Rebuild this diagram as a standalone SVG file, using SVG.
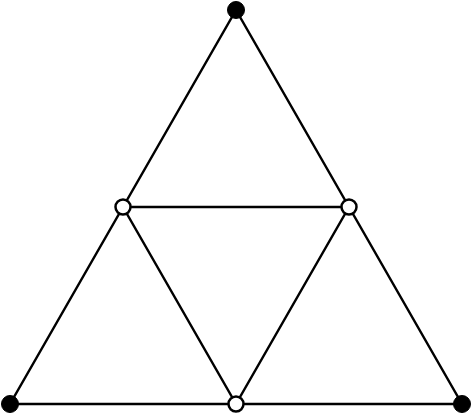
<svg xmlns="http://www.w3.org/2000/svg" width="474" height="413" viewBox="0 0 474 413">
<style>
.edge{stroke:#000;stroke-width:2.5;fill:none;stroke-linecap:round}
.solid{fill:#000;stroke:#000;stroke-width:1}
.hollow{fill:#fff;stroke:#000;stroke-width:2.5}
</style>
<rect width="474" height="413" fill="#fff"/>
<g id="connectors">
<line class="edge" x1="236" y1="10" x2="123" y2="207"/>
<line class="edge" x1="123" y1="207" x2="10" y2="404"/>
<line class="edge" x1="236" y1="10" x2="349" y2="207"/>
<line class="edge" x1="349" y1="207" x2="462" y2="404"/>
<line class="edge" x1="10" y1="404" x2="236" y2="404"/>
<line class="edge" x1="236" y1="404" x2="462" y2="404"/>
<line class="edge" x1="123" y1="207" x2="349" y2="207"/>
<line class="edge" x1="123" y1="207" x2="236" y2="404"/>
<line class="edge" x1="349" y1="207" x2="236" y2="404"/>
</g>
<g id="n-top"><circle class="solid" cx="236" cy="10" r="8.5"/></g>
<g id="n-bl"><circle class="solid" cx="10" cy="404" r="8.5"/></g>
<g id="n-br"><circle class="solid" cx="462" cy="404" r="8.5"/></g>
<g id="n-ml"><circle class="hollow" cx="123" cy="207" r="7.5"/></g>
<g id="n-mr"><circle class="hollow" cx="349" cy="207" r="7.5"/></g>
<g id="n-mb"><circle class="hollow" cx="236" cy="404" r="7.5"/></g>
</svg>
